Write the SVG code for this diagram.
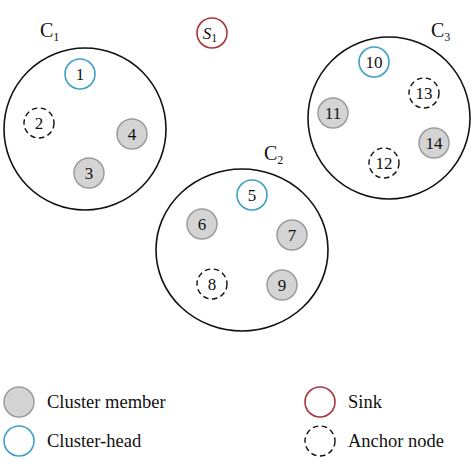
<svg xmlns="http://www.w3.org/2000/svg" width="474" height="474" viewBox="0 0 474 474">
<style>
.cl{fill:none;stroke:#111;stroke-width:1.6}
.mem{fill:#d4d4d4;stroke:#9c9c9c;stroke-width:1.5}
.head{fill:#fff;stroke:#3fa0c8;stroke-width:1.6}
.sink{fill:#fff;stroke:#a8343c;stroke-width:1.6}
.anc{fill:#fff;stroke:#111;stroke-width:1.4;stroke-dasharray:5.5 3.5}
.n{font-family:"Liberation Serif",serif;font-size:17px;fill:#111;text-anchor:middle}
.lbl{font-family:"Liberation Serif",serif;font-size:20px;fill:#111}
.sub{font-size:12px}
.leg{font-family:"Liberation Serif",serif;font-size:18.5px;fill:#111}
</style>
<rect width="474" height="474" fill="#fff"/>
<g id="connectors"></g>
<g id="C1">
<circle class="cl" cx="85" cy="129" r="81"/>
<text class="lbl" x="40" y="37">C<tspan class="sub" dy="4">1</tspan></text>
</g>
<g id="C2">
<ellipse class="cl" cx="242" cy="250" rx="86" ry="81"/>
<text class="lbl" x="264" y="160">C<tspan class="sub" dy="4">2</tspan></text>
</g>
<g id="C3">
<circle class="cl" cx="389" cy="118" r="81"/>
<text class="lbl" x="431" y="37">C<tspan class="sub" dy="4">3</tspan></text>
</g>
<g id="S1"><circle class="sink" cx="212" cy="33" r="15"/><text class="n" x="210" y="39" font-style="italic" font-size="18">S<tspan class="sub" font-style="normal" dy="3">1</tspan></text></g>
<g id="n1"><circle class="head" cx="80" cy="74" r="15"/><text class="n" x="80" y="80">1</text></g>
<g id="n2"><circle class="anc" cx="39" cy="123" r="15"/><text class="n" x="39" y="129">2</text></g>
<g id="n3"><circle class="mem" cx="89" cy="173" r="15"/><text class="n" x="89" y="179">3</text></g>
<g id="n4"><circle class="mem" cx="132" cy="134" r="15"/><text class="n" x="132" y="140">4</text></g>
<g id="n5"><circle class="head" cx="252" cy="195" r="15"/><text class="n" x="252" y="201">5</text></g>
<g id="n6"><circle class="mem" cx="202" cy="224" r="15"/><text class="n" x="202" y="230">6</text></g>
<g id="n7"><circle class="mem" cx="292" cy="235" r="15"/><text class="n" x="292" y="241">7</text></g>
<g id="n8"><circle class="anc" cx="212" cy="284" r="15"/><text class="n" x="212" y="290">8</text></g>
<g id="n9"><circle class="mem" cx="282" cy="285" r="15"/><text class="n" x="282" y="291">9</text></g>
<g id="n10"><circle class="head" cx="374" cy="62" r="15"/><text class="n" x="374" y="68">10</text></g>
<g id="n11"><circle class="mem" cx="333" cy="113" r="15"/><text class="n" x="333" y="119">11</text></g>
<g id="n12"><circle class="anc" cx="384" cy="163" r="15"/><text class="n" x="384" y="169">12</text></g>
<g id="n13"><circle class="anc" cx="424" cy="93" r="15"/><text class="n" x="424" y="99">13</text></g>
<g id="n14"><circle class="mem" cx="434" cy="143" r="15"/><text class="n" x="434" y="149">14</text></g>
<g id="legend">
<circle class="mem" cx="19" cy="402" r="15"/><text class="leg" x="47" y="408">Cluster member</text>
<circle class="head" cx="19" cy="441" r="15"/><text class="leg" x="47" y="447">Cluster-head</text>
<circle class="sink" cx="320" cy="402" r="15"/><text class="leg" x="348" y="408">Sink</text>
<circle class="anc" cx="320" cy="441" r="15"/><text class="leg" x="348" y="447">Anchor node</text>
</g>
</svg>
